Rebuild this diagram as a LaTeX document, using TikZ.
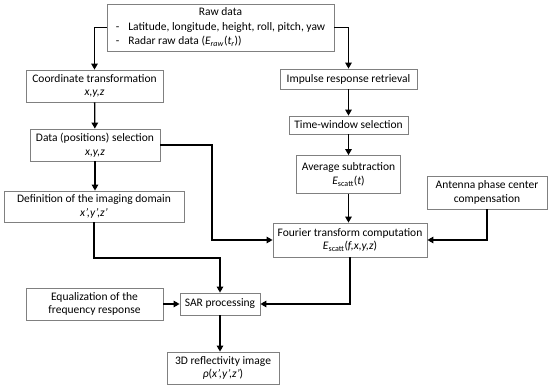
\documentclass[tikz,border=0pt]{standalone}
\usepackage{fontspec}
\setmainfont{Carlito}
\usetikzlibrary{arrows.meta}
\definecolor{boxgray}{RGB}{128,128,128}
\begin{document}
\begin{tikzpicture}[x=1pt,y=-1pt,
  font=\fontsize{11.5}{13.5}\selectfont,
  box/.style={draw=boxgray, line width=0.8pt, inner sep=0pt, align=center, fill=white},
  arr/.style={-{Triangle[length=6pt,width=6.5pt]}, line width=1.3pt, black}]
\useasboundingbox (0,0) rectangle (550,389);
% left column
\node[box, minimum width=227pt, minimum height=47pt] (raw) at (220.5,27.5)
  {\begin{tabular}{@{}l@{\hspace{9pt}}l@{}}
   \multicolumn{2}{c}{Raw data}\\[1pt]
   - & Latitude, longitude, height, roll, pitch, yaw\\[1pt]
   - & Radar raw data (\textit{E}\textsubscript{\textit{raw}}(\textit{t}\textsubscript{\textit{r}}))
   \end{tabular}};
\node[box, minimum width=137pt, minimum height=32pt] (coord) at (94.5,86)
  {Coordinate transformation\\\textit{x,y,z}};
\node[box, minimum width=130pt, minimum height=32pt] (sel) at (95,145)
  {Data (positions) selection\\\textit{x,y,z}};
\node[box, minimum width=180pt, minimum height=31pt] (dom) at (94,206.5)
  {Definition of the imaging domain\\\textit{x’,y’,z’}};
\node[box, minimum width=137pt, minimum height=32pt] (eq) at (94.5,304)
  {Equalization of the\\frequency response};
\node[box, minimum width=80pt, minimum height=22pt] (sar) at (220,304)
  {SAR processing};
\node[box, minimum width=112pt, minimum height=32pt] (refl) at (223,368)
  {3D reflectivity image\\\textit{ρ}(\textit{x’,y’,z’})};
% right column
\node[box, minimum width=137pt, minimum height=20pt] (imp) at (348.5,79)
  {Impulse response retrieval};
\node[box, minimum width=119pt, minimum height=18pt] (tw) at (348.5,125)
  {Time-window selection};
\node[box, minimum width=104pt, minimum height=38pt] (avg) at (348.5,174.5)
  {Average subtraction\\\textit{E}\textsubscript{scatt}(\textit{t})};
\node[box, minimum width=120pt, minimum height=33pt] (ant) at (487,192.5)
  {Antenna phase center\\compensation};
\node[box, minimum width=154pt, minimum height=34pt] (four) at (350,240)
  {Fourier transform computation\\\textit{E}\textsubscript{scatt}(\textit{f,x,y,z})};
% junctions
\coordinate (j1) at (212,240);
\coordinate (j2) at (220,258);
% connectors
\draw[arr] (raw.west) -| (coord.north);
\draw[arr] (raw.east) -| (imp.north);
\draw[arr] (coord) -- (sel);
\draw[arr] (sel) -- (sel |- dom.north);
\draw[arr] (sel.east) -| (j1) -- (four.west);
\draw[arr] (dom.south) |- (j2) -- (sar.north);
\draw[arr] (eq.east) -- (sar.west);
\draw[arr] (four.south) |- (sar.east);
\draw[arr] (sar.south) -- (sar.south |- refl.north);
\draw[arr] (imp) -- (tw);
\draw[arr] (tw) -- (avg);
\draw[arr] (avg.south) -- (avg.south |- four.north);
\draw[arr] (ant.south) |- (four.east);
\end{tikzpicture}
\end{document}
